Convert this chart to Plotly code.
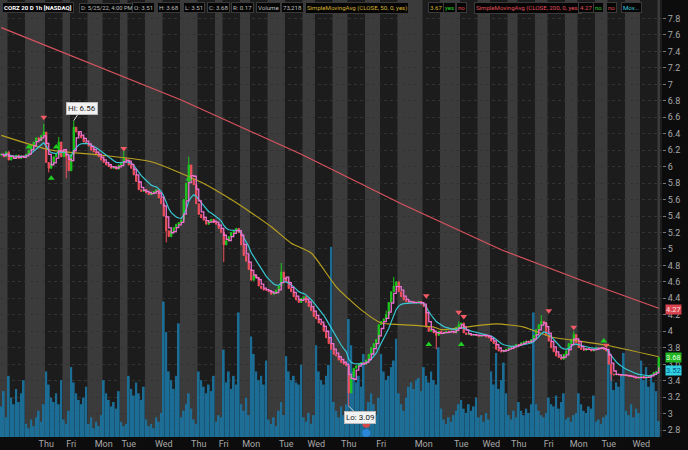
import plotly.graph_objects as go
import pandas as pd

# ---------------- data ----------------
day_names = ["Thu", "Fri", "Mon", "Tue", "Wed", "Thu", "Fri", "Mon", "Tue", "Wed",
             "Thu", "Fri", "Mon", "Tue", "Wed", "Thu", "Fri", "Mon", "Tue", "Wed"]
# extended-hours (pre/post market) hourly bars before each regular session
# (first entry precedes the partial first session)
ext_before = [3, 8, 3, 6, 3, 7, 7, 3, 4, 7, 5, 6, 6, 10, 8, 5, 4, 5, 5, 5, 6]
ext_after_last = 1
session_bars = 7

closes = [
    6.15, 6.12, 6.18, 6.08, 6.12, 6.10, 6.14, 6.10, 6.13, 6.11,
    6.15, 6.20, 6.26, 6.30, 6.35, 6.32, 6.38, 6.42, 6.05, 5.98,
    6.04, 6.12, 6.15, 6.30, 6.12, 6.20, 6.12, 5.95, 6.15, 6.48,
    6.42, 6.38, 6.35, 6.30, 6.28, 6.25, 6.20, 6.18, 6.15, 6.12,
    6.08, 6.05, 6.02, 6.00, 5.98, 6.00, 5.97, 6.02, 6.05, 6.10,
    6.08, 6.02, 5.98, 5.90, 5.82, 5.72, 5.70, 5.72, 5.68, 5.66,
    5.68, 5.70, 5.72, 5.62, 5.55, 5.40, 5.22, 5.15, 5.22, 5.26,
    5.30, 5.32, 5.35, 5.60, 5.80, 6.02, 5.85, 5.78, 5.55, 5.42,
    5.38, 5.35, 5.30, 5.33, 5.36, 5.32, 5.30, 5.25, 5.20, 5.05,
    5.10, 5.15, 5.20, 5.22, 5.25, 5.20, 5.05, 4.92, 4.85, 4.75,
    4.62, 4.68, 4.65, 4.55, 4.52, 4.50, 4.50, 4.48, 4.45, 4.46,
    4.50, 4.55, 4.72, 4.65, 4.60, 4.52, 4.48, 4.42, 4.38, 4.35,
    4.40, 4.42, 4.35, 4.30, 4.25, 4.18, 4.15, 4.10, 4.08, 4.00,
    3.92, 3.85, 3.78, 3.72, 3.70, 3.65, 3.62, 3.60, 3.58, 3.25,
    3.45, 3.55, 3.58, 3.60, 3.62, 3.60, 3.65, 3.72, 3.80, 3.85,
    3.90, 4.08, 4.12, 4.15, 4.20, 4.35, 4.48, 4.55, 4.60, 4.48,
    4.42, 4.38, 4.36, 4.35, 4.36, 4.34, 4.35, 4.36, 4.33, 4.30,
    4.05, 4.00, 4.02, 3.98, 3.95, 4.00, 3.97, 3.98, 4.00, 3.99,
    4.00, 3.98, 4.05, 4.08, 4.10, 3.98, 3.96, 3.97, 3.95, 3.96,
    3.95, 3.94, 3.95, 3.96, 3.93, 3.92, 3.88, 3.85, 3.78, 3.76,
    3.75, 3.77, 3.78, 3.80, 3.80, 3.82, 3.84, 3.83, 3.86, 3.87,
    3.88, 3.86, 3.90, 3.95, 4.02, 4.08, 4.12, 4.10, 3.95, 3.88,
    3.80, 3.75, 3.70, 3.68, 3.66, 3.72, 3.76, 3.85, 3.90, 3.96,
    3.86, 3.80, 3.78, 3.77, 3.79, 3.78, 3.76, 3.78, 3.80, 3.79,
    3.80, 3.78, 3.76, 3.60, 3.48, 3.47, 3.48, 3.47, 3.46, 3.47,
    3.46, 3.45, 3.45, 3.44, 3.43, 3.44, 3.45, 3.43, 3.44, 3.46,
    3.47, 3.50, 3.51, 3.68,
]
first_open = 6.14
# notable wicks: bar -> high / low
wick_high = {17: 6.52, 23: 6.36, 29: 6.56, 49: 6.24, 75: 6.12, 112: 4.83,
             157: 4.66, 216: 4.20, 229: 4.00, 154: 4.25, 183: 4.12}
wick_low = {26: 5.86, 89: 4.84, 139: 3.09, 19: 5.93, 66: 5.08, 174: 3.78,
            244: 3.40}

volumes_k = [
    140, 210, 90,
    280, 180, 150, 220, 160, 200, 260,
    60, 40, 80, 50, 90, 120, 70, 150,
    300, 240, 180, 160, 200, 150, 260,
    80, 60, 120,
    320, 250, 200, 170, 150, 180, 230,
    60, 90, 40, 70, 50, 100,
    260, 200, 170, 140, 160, 130, 210,
    70, 50, 60,
    280, 220, 190, 250, 200, 170, 230,
    80, 50, 60, 40, 90, 70, 110,
    620, 480, 300, 260, 220, 280, 520,
    90, 120, 150, 200, 130, 80, 60,
    300, 260, 230, 200, 240, 210, 280,
    70, 100, 90,
    400, 250, 300, 220, 280, 240, 570,
    150, 120, 180, 100,
    460, 380, 300, 260, 280, 240, 350,
    80, 60, 90, 50, 120, 160, 100,
    370, 300, 260, 280, 250, 240, 330,
    90, 70, 110, 60, 100,
    420, 300, 260, 240, 280, 330, 870,
    160, 120, 90, 140, 100, 150,
    540, 420, 300, 250, 280, 230, 380,
    120, 160, 200, 150, 100, 180,
    380, 300, 260, 280, 320, 350, 450,
    200, 150, 120, 180, 230, 250, 220, 260, 270, 210,
    320, 280, 250, 300, 260, 240, 410,
    130, 80, 60, 90, 70, 100, 120, 150,
    170, 130, 110, 150, 120, 140, 180,
    90, 100, 70, 110, 80,
    300, 240, 385, 220, 260, 340, 200,
    100, 80, 120, 90,
    160, 120, 100, 130, 110, 150, 570,
    150, 120, 100, 90, 110,
    180, 150, 140, 190, 130, 160, 200,
    80, 90, 70, 100, 110,
    200, 150, 120, 110, 140, 130, 190,
    70, 80, 60, 90, 100,
    400, 300, 215, 250, 230, 280, 385,
    120, 100, 150, 90, 130, 110,
    350, 260, 320, 230, 280, 250, 210,
    73,
]

# moving averages (bar index, value)
sma50_idx = [0, 20, 40, 60, 80, 92, 100, 108, 116, 124, 134, 144, 152, 160, 173, 176, 188, 198, 209, 220, 229, 242, 263]
sma50_val = [6.38, 6.20, 6.14, 6.06, 5.81, 5.60, 5.44, 5.27, 5.07, 4.95, 4.54, 4.26, 4.10, 4.08, 4.05, 4.02, 4.06, 4.09, 4.05, 3.93, 3.89, 3.83, 3.69]
sma200_idx = [0, 36, 72, 120, 160, 200, 232, 263]
sma200_val = [7.69, 7.25, 6.81, 6.15, 5.55, 4.99, 4.62, 4.28]

dn_arrow_idx = [17, 49, 170, 183, 185, 219, 229, 242]
dn_arrow_val = [6.60, 6.22, 4.43, 4.23, 4.18, 4.25, 4.05, 3.83]
up_arrow_idx = [11, 20, 22, 75, 171, 184, 241]
up_arrow_val = [6.24, 5.86, 6.24, 5.85, 3.84, 3.84, 3.88]

price_ticks = [round(2.8 + 0.2 * k, 1) for k in range(26)]

header_items = [
    "<b>CORZ 20 D 1h [NASDAQ]</b>", "D: 5/25/22, 4:00 PM", "O: 3.51", "H: 3.68", "L: 3.51",
    "C: 3.68", "R: 0.17", "Volume", "73,218", "SimpleMovingAvg (CLOSE, 50, 0, yes)", "3.67",
    "yes", "no", "SimpleMovingAvg (CLOSE, 200, 0, yes)", "4.27", "no", "no", "Mov...",
]

# ---------------- derived ----------------
n = len(closes)
assert n == len(volumes_k) == sum(ext_before) + session_bars * len(ext_before) + ext_after_last, (n, len(volumes_k))
idx = list(range(n))
is_ext = []
session_starts = []
for eb in ext_before:
    is_ext += [True] * eb
    session_starts.append(len(is_ext))
    is_ext += [False] * session_bars
is_ext += [True] * ext_after_last

opens = [first_open] + closes[:-1]
highs = [max(o, c) for o, c in zip(opens, closes)]
lows = [min(o, c) for o, c in zip(opens, closes)]
for k, v in wick_high.items():
    highs[k] = max(highs[k], v)
for k, v in wick_low.items():
    lows[k] = min(lows[k], v)

s = pd.Series(closes)
cyan = s.ewm(span=10, adjust=False).mean()
pink = s.rolling(3, min_periods=1).mean()

# ---------------- figure ----------------
fig = go.Figure()
fig.add_trace(go.Bar(x=idx, y=volumes_k, marker=dict(color="#1c74a0", line=dict(width=0)),
                     opacity=0.92, yaxis="y", hoverinfo="skip"))
fig.add_trace(go.Scatter(x=sma200_idx, y=sma200_val, mode="lines", yaxis="y2",
                         line=dict(color="#d8535e", width=1.2)))
fig.add_trace(go.Scatter(x=sma50_idx, y=sma50_val, mode="lines", yaxis="y2",
                         line=dict(color="#b8a020", width=1.2, shape="spline", smoothing=0.6)))
fig.add_trace(go.Candlestick(x=idx, open=opens, high=highs, low=lows, close=closes, yaxis="y2",
                             increasing=dict(line=dict(color="#1ec81e", width=1), fillcolor="#1ec81e"),
                             decreasing=dict(line=dict(color="#f0505e", width=1), fillcolor="#f0505e"),
                             whiskerwidth=0))
fig.add_trace(go.Scatter(x=idx, y=cyan, mode="lines", yaxis="y2",
                         line=dict(color="#38c8d4", width=1.2)))
fig.add_trace(go.Scatter(x=idx, y=pink, mode="lines", yaxis="y2",
                         line=dict(color="#ee70d0", width=1.3, shape="hv")))
fig.add_trace(go.Scatter(x=dn_arrow_idx, y=dn_arrow_val, mode="markers", yaxis="y2",
                         marker=dict(symbol="triangle-down", size=6, color="#f05a64")))
fig.add_trace(go.Scatter(x=up_arrow_idx, y=up_arrow_val, mode="markers", yaxis="y2",
                         marker=dict(symbol="triangle-up", size=6, color="#22cc22")))
# event markers under the low
fig.add_trace(go.Scatter(x=[146, 146], y=[2.875, 2.765], mode="markers", yaxis="y2",
                         marker=dict(size=8, color=["#d24848", "#2a86d8"])))

shapes = []
k = 0
while k < n:
    if is_ext[k]:
        j = k
        while j + 1 < n and is_ext[j + 1]:
            j += 1
        shapes.append(dict(type="rect", xref="x", yref="paper", x0=k - 0.5, x1=j + 0.5, y0=0, y1=1,
                           fillcolor="#3b3b3b", line=dict(width=0), layer="below"))
        k = j + 1
    else:
        k += 1

W, PH = 662.0, 437.0
ann = []
header_left = [2, 79, 132, 157, 183, 207, 231, 256, 281, 305, 428, 443, 456, 474, 578, 593, 606, 621]
header_size = [6.1, 5.8] + [6.1] * 16
header_col = ["#ffffff"] + ["#bdbdbd"] * 8 + ["#d6b22e", "#d6b22e", "#2fd02f", "#e05050",
                                            "#e0505a", "#e0505a", "#2fd02f", "#e05050", "#3ccbe0"]
for px, txt, col, fs in zip(header_left, header_items, header_col, header_size):
    ann.append(dict(xref="paper", yref="paper", x=px / W, y=1 - 7.5 / PH, xanchor="left", yanchor="middle",
                    text=txt, showarrow=False, bgcolor="#050505", bordercolor="#3a3a3a", borderwidth=1,
                    borderpad=1, font=dict(family="Roboto", size=fs, color=col)))

ann.append(dict(xref="x", yref="y2", x=29, y=6.56, text="Hi: 6.56", showarrow=True, arrowhead=0,
                arrowcolor="#dddddd", arrowwidth=1, ax=8, ay=-12, bgcolor="#f2f2f2", bordercolor="#bbbbbb",
                borderpad=1, font=dict(family="Roboto", size=8, color="#222222")))
ann.append(dict(xref="x", yref="y2", x=139, y=3.09, text="Lo: 3.09", showarrow=True, arrowhead=0,
                arrowcolor="#dddddd", arrowwidth=1, ax=11, ay=11, bgcolor="#f2f2f2", bordercolor="#bbbbbb",
                borderpad=1, font=dict(family="Roboto", size=8, color="#222222")))

for val, bg, fc in [(4.27, "#d9434f", "#ffe0e0"), (3.68, "#21b621", "#e0ffe0"), (3.52, "#2fd3e2", "#0b4f86")]:
    ann.append(dict(xref="paper", yref="y2", x=1, y=val, xanchor="left", yanchor="middle", xshift=3,
                    text=f"{val:.2f}", showarrow=False, bgcolor=bg, borderpad=0,
                    font=dict(family="Roboto", size=7.5, color=fc)))

fig.update_layout(
    width=688, height=450, margin=dict(l=0, r=26, t=0, b=13),
    paper_bgcolor="#0c0c0c", plot_bgcolor="#1c1c1c",
    showlegend=False, bargap=0.25, shapes=shapes, annotations=ann,
    xaxis=dict(range=[-0.5, 264.3], rangeslider=dict(visible=False), showgrid=False, zeroline=False,
               tickmode="array", tickvals=session_starts[1:], ticktext=day_names, ticks="",
               tickfont=dict(family="Roboto", size=9, color="#a8a8a8"), showline=False),
    yaxis=dict(range=[0, 2000], visible=False, fixedrange=True),
    yaxis2=dict(range=[2.715, 8.025], overlaying="y", side="right", tickmode="array",
                tickvals=price_ticks, ticktext=[f"{v:g}" for v in price_ticks],
                ticks="outside", ticklen=3, tickcolor="#777777",
                tickfont=dict(family="Roboto", size=9, color="#a8a8a8"),
                showgrid=True, gridcolor="#333333", griddash="dot", gridwidth=1, zeroline=False),
)

fig.write_html("out.html")
